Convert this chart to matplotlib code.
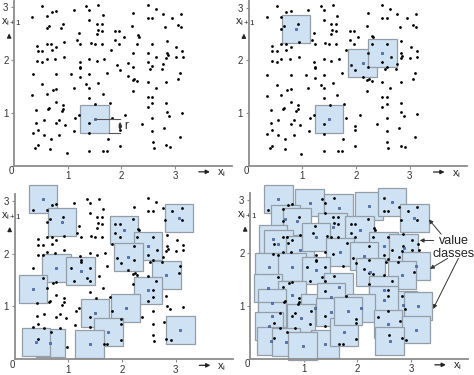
import matplotlib
matplotlib.use("Agg")
import matplotlib.pyplot as plt
from matplotlib.patches import Rectangle

plt.rcParams['font.family'] = ['Liberation Sans', 'DejaVu Sans']
plt.rcParams['mathtext.fontset'] = 'custom'
plt.rcParams['mathtext.rm'] = 'Liberation Sans'

# ---- data points (x_i, x_{i+1}) ----
pts_x = [0.53, 1.11, 1.35, 1.40, 1.57, 2.49, 2.64, 0.34, 0.61, 0.70, 0.78, 1.40, 1.65, 2.22, 2.49, 2.57, 2.77, 2.94, 3.11,
         0.61, 0.66, 0.91, 0.88, 1.54, 1.63, 1.56, 1.63, 2.20, 2.81, 3.06, 3.11, 1.21, 1.54, 1.88, 1.96, 2.04, 2.30, 2.32,
         1.88, 1.17, 1.23, 0.93, 0.61, 0.69, 0.78, 0.43, 0.44, 0.53, 0.70, 1.50, 1.63, 1.43, 1.96, 2.29, 2.57, 2.84, 3.02,
         3.13, 2.84, 2.22, 1.81, 2.49, 2.65, 2.86, 2.83, 3.01, 3.14, 0.43, 0.53, 0.61, 0.76, 0.93, 1.22, 1.23, 1.23, 1.40,
         1.54, 1.68, 1.91, 1.98, 2.12, 2.22, 2.49, 2.57, 2.53, 2.77, 2.75, 0.35, 0.78, 1.06, 1.23, 1.40, 1.73, 2.12, 2.21,
         2.29, 2.24, 2.49, 3.09, 3.06, 0.53, 1.11, 1.35, 1.40, 1.57, 0.72, 0.78, 0.34, 0.61, 1.40, 1.65, 2.21, 2.49, 2.57,
         2.64, 2.83, 0.78, 0.92, 0.41, 0.64, 0.66, 0.89, 0.92, 1.21, 1.14, 0.55, 0.84, 1.51, 1.78, 2.49, 2.57, 2.83, 3.13,
         2.57, 2.84, 2.89, 0.41, 0.78, 1.40, 1.82, 2.07, 2.38, 2.79, 0.35, 0.44, 0.55, 0.68, 0.84, 0.95, 1.12, 1.40, 1.75,
         1.98, 1.98, 2.57, 2.58, 3.09, 0.40, 0.44, 0.67, 0.98, 1.40, 1.66, 1.73, 1.98, 2.60, 2.83, 2.91, 1.50]
pts_y = [3.03, 2.96, 3.03, 2.96, 3.04, 3.05, 2.97, 2.82, 2.83, 2.92, 2.94, 2.77, 2.85, 2.89, 2.80, 2.80, 2.87, 2.80, 2.87,
         2.60, 2.65, 2.69, 2.60, 2.69, 2.69, 2.58, 2.56, 2.65, 2.63, 2.67, 2.63, 2.52, 2.49, 2.56, 2.56, 2.44, 2.47, 2.44,
         2.39, 2.39, 2.31, 2.34, 2.31, 2.31, 2.25, 2.27, 2.17, 2.17, 2.19, 2.31, 2.31, 2.33, 2.31, 2.31, 2.31, 2.36, 2.25,
         2.17, 2.14, 2.14, 2.19, 2.14, 2.06, 2.09, 2.04, 2.05, 2.06, 1.98, 1.97, 2.03, 2.02, 2.06, 1.96, 1.87, 1.85, 2.02,
         1.98, 2.02, 1.91, 1.82, 1.94, 1.87, 1.97, 1.88, 1.84, 1.93, 1.84, 1.73, 1.73, 1.73, 1.67, 1.73, 1.76, 1.69, 1.62,
         1.60, 1.64, 1.58, 1.76, 1.64, 1.54, 1.48, 1.54, 1.48, 1.57, 1.44, 1.46, 1.33, 1.35, 1.28, 1.35, 1.42, 1.30, 1.30,
         1.48, 1.59, 1.21, 1.15, 1.06, 1.08, 1.10, 1.03, 1.08, 0.96, 0.91, 0.86, 0.86, 1.16, 1.18, 1.11, 1.18, 1.19, 0.99,
         0.91, 1.01, 0.94, 0.81, 0.80, 0.80, 0.91, 0.96, 0.79, 0.71, 0.61, 0.67, 0.58, 0.51, 0.58, 0.77, 0.65, 0.61, 0.51,
         0.67, 0.75, 0.66, 0.45, 0.55, 0.33, 0.38, 0.31, 0.23, 0.28, 0.28, 0.28, 0.37, 0.34, 0.38, 0.36, 0.88]

# ---- value-class centres for each panel ----
p1_cx = [1.50]
p1_cy = [0.88]
p2_cx = [0.88, 1.50, 2.12, 2.49]
p2_cy = [2.60, 0.88, 1.94, 2.14]
p3_cx = [0.53, 0.88, 2.04, 2.49, 3.06, 2.12, 0.78, 1.23, 2.83, 0.34, 2.49, 1.50, 2.07, 1.75, 3.09, 0.67, 0.40, 1.40]
p3_cy = [3.03, 2.60, 2.44, 2.14, 2.67, 1.94, 1.73, 1.67, 1.59, 1.33, 1.30, 0.88, 0.96, 0.51, 0.55, 0.31, 0.33, 0.28]
p4_cx = [0.53, 1.11, 1.65, 2.22, 2.64, 3.06, 0.66, 0.88, 1.54, 2.04, 2.49, 2.86, 0.43, 0.53, 0.93, 1.23, 1.68, 2.12,
         3.09, 0.35, 0.78, 1.23, 2.24, 2.83, 0.34, 1.65, 2.49, 2.84, 3.13, 0.78, 0.41, 1.21, 1.51, 2.49, 0.95, 1.50,
         2.07, 2.57, 3.09, 0.41, 0.35, 0.40, 0.67, 1.40, 1.75, 2.60, 0.98, 1.82]
p4_cy = [3.03, 2.96, 2.85, 2.89, 2.97, 2.67, 2.65, 2.60, 2.49, 2.44, 2.14, 2.09, 2.27, 2.17, 2.06, 2.31, 2.02, 1.94,
         1.76, 1.73, 1.73, 1.67, 1.64, 1.59, 1.33, 1.35, 1.30, 1.01, 0.99, 1.21, 1.06, 0.96, 1.16, 1.11, 0.77, 0.88,
         0.96, 0.66, 0.55, 0.81, 0.61, 0.33, 0.31, 0.28, 0.51, 0.34, 0.23, 0.91]

r = 0.265
tick_vals = [1, 2, 3]
tick_labels = ['1', '2', '3']

W, H = 474, 375
fig = plt.figure(figsize=(W / 100, H / 100), dpi=100)

sx, sy = 53.7, 52.7
xmax, ymax = 4.06, 3.14
origins = [(14, 165.5), (248.7, 165.7), (14.5, 359), (250, 358.5)]
centres = [(p1_cx, p1_cy), (p2_cx, p2_cy), (p3_cx, p3_cy), (p4_cx, p4_cy)]

fill_c = '#cfe2f3'
edge_c = '#949ea8'
axis_c = '#8c8c8c'
text_c = '#333333'

axes = []
for (x0, y0), (cx, cy) in zip(origins, centres):
    ax = fig.add_axes([x0 / W, (H - y0) / H, xmax * sx / W, ymax * sy / H])
    ax.set_xlim(0, xmax)
    ax.set_ylim(0, ymax)
    ax.patch.set_alpha(0)
    for s in ['top', 'right']:
        ax.spines[s].set_visible(False)
    for s in ['left', 'bottom']:
        ax.spines[s].set_color(axis_c)
        ax.spines[s].set_linewidth(1.3)
        ax.spines[s].set_zorder(5)
    ax.set_xticks(tick_vals)
    ax.set_yticks(tick_vals)
    ax.set_xticklabels(tick_labels)
    ax.set_yticklabels(tick_labels)
    ax.tick_params(length=2, width=0.8, color=axis_c, labelsize=7, labelcolor=text_c, pad=2)
    ax.text(-0.05, -0.11, '0', fontsize=7, color=text_c, ha='center', va='center', clip_on=False)
    # squares
    for x, y in zip(cx, cy):
        ax.add_patch(Rectangle((x - r, y - r), 2 * r, 2 * r, facecolor=fill_c, edgecolor=edge_c,
                               linewidth=0.9, zorder=2, clip_on=False))
    ax.plot(pts_x, pts_y, 'o', color='black', markersize=2.0, markeredgewidth=0, zorder=3, clip_on=False)
    ax.plot(cx, cy, 'o', color='#5a7cc4', markersize=2.0, markeredgewidth=0, zorder=4, clip_on=False)
    # axis labels with arrows
    ax.annotate('', xy=(-0.09, 2.56), xytext=(-0.09, 2.38), xycoords='data',
                arrowprops=dict(arrowstyle='-|>', color='#222222', lw=0.9, mutation_scale=6), annotation_clip=False)
    ax.text(-0.25, 2.72, r'$\mathregular{x_{i+1}}$', fontsize=8, color='#222222', ha='left', va='center',
            clip_on=False)
    ax.annotate('', xy=(3.70, -0.12), xytext=(3.39, -0.12), xycoords='data',
                arrowprops=dict(arrowstyle='-|>', color='#222222', lw=0.9, mutation_scale=6), annotation_clip=False)
    ax.text(3.78, -0.15, r'$\mathregular{x_i}$', fontsize=8, color='#222222', ha='left', va='center',
            clip_on=False)
    axes.append(ax)

# r annotation in panel 1
ax1 = axes[0]
cx0, cy0 = p1_cx[0], p1_cy[0]
ax1.plot([cx0, 1.975], [cy0, cy0], color='#555555', lw=0.8, zorder=4)
ax1.plot([cx0 + r, 1.975], [cy0 - r, cy0 - r], color='#555555', lw=0.8, zorder=4)
ax1.annotate('', xy=(1.975, cy0 - r), xytext=(1.975, cy0), xycoords='data',
             arrowprops=dict(arrowstyle='<|-|>', color='#333333', lw=0.8, mutation_scale=4))
ax1.text(2.09, 0.75, 'r', fontsize=8.5, color='#222222', ha='center', va='center')

# value classes annotation in panel 4
ax4 = axes[3]
ax4.text(3.80, 2.11, 'value\nclasses', fontsize=9, color='#222222', ha='center', va='center',
         linespacing=1.1, clip_on=False, zorder=6)
arrow_heads = [(3.33, 2.64), (3.16, 2.24), (3.35, 1.70), (3.41, 0.94)]
arrow_tails = [(3.56, 2.36), (3.42, 2.24), (3.68, 1.90), (3.88, 1.90)]
for h, t in zip(arrow_heads, arrow_tails):
    ax4.annotate('', xy=h, xytext=t, xycoords='data',
                 arrowprops=dict(arrowstyle='-|>', color='#333333', lw=0.7, mutation_scale=6,
                                 shrinkA=0, shrinkB=0), annotation_clip=False, zorder=6)

fig.savefig('out.png', dpi=100)
